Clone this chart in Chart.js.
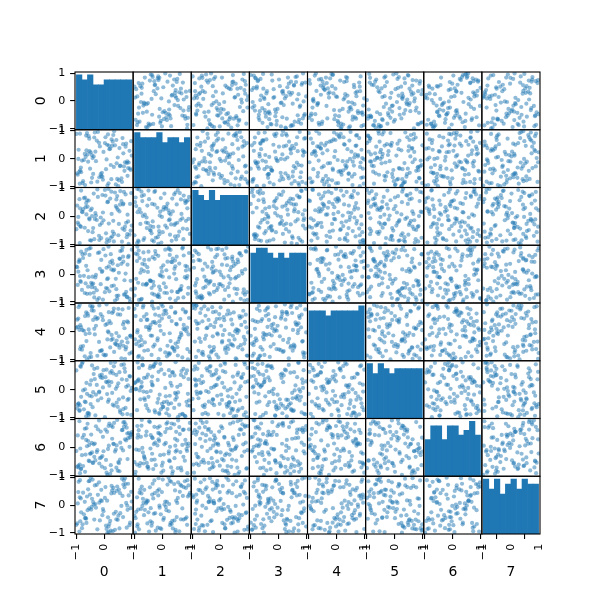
<!DOCTYPE html>
<html>
<head>
<meta charset="utf-8">
<script src="https://cdn.jsdelivr.net/npm/chart.js@4.4.0/dist/chart.umd.min.js"></script>
<style>
  body { margin: 0; background: #fff; }
  #fig { position: relative; width: 600px; height: 600px; }
  #fig canvas { position: absolute; left: 0; top: 0; }
</style>
</head>
<body>
<div id="fig"></div>
<script>
/* ---------- Data ---------- */

const columns = ["0", "1", "2", "3", "4", "5", "6", "7"];
const tickValues = [-1, 0, 1];

const col0 = [
  -0.31, 0.47, -0.99, 0.88, 0.12, -0.53, 0.71, -0.66, 0.29, -0.08,
  0.64, -0.44, 0.03, -0.85, 0.36, 0.93, -0.17, 0.55, -0.72, -0.26,
  -0.61, 0.24, -0.12, 0.77, -0.35, -0.91, 0.42, -0.57, 0.84, 0.16,
  0.09, 0.97, -0.48, -0.04, -0.69, 0.51, -0.88, 0.33, -0.83, 0.68,
  -0.94, -0.15, 0.81, -0.75, 0.58, -0.22, 0.27, 0.62, 0.19, -0.41,
  0.39, -0.87, -0.29, 0.07, -0.52, 0.73, -0.64, 0.99, -0.06, 0.45,
  0.86, 0.14, 0.53, -0.37, -0.96, -0.79, -0.46, -0.18, 0.66, 0.22,
  -0.59, 0.75, -0.68, 0.31, -0.43, 0.11, 0.91, -0.82, -0.33, 0.57,
  -0.10, -0.63, 0.35, -0.55, 0.79, 0.49, -0.92, 0.05, -0.24, 0.95,
  0.44, -0.39, 0.69, -0.02, 0.83, 0.26, 0.17, -0.50, -0.86, -0.77
];
const col1 = [
  0.25, -0.73, 0.89, -0.14, -0.97, 0.72, -0.28, 0.06, 0.46, -0.51,
  -0.84, 0.13, 0.56, -0.42, 0.99, -0.36, -0.67, 0.38, -0.05, 0.65,
  0.92, -0.23, -0.56, 0.43, 0.76, 0.32, -0.93, -0.11, -0.62, -0.89,
  -0.03, 0.63, 0.23, -0.76, 0.17, -0.99, -0.47, 0.85, -0.32, 0.52,
  -0.58, 0.44, -0.16, -0.81, -0.25, 0.96, 0.69, -0.71, 0.34, 0.02,
  0.48, -0.90, -0.09, -0.38, 0.27, -0.44, 0.83, 0.11, -0.65, -0.17,
  -0.34, 0.87, -0.78, 0.08, -0.53, -0.07, -0.86, 0.57, 0.74, 0.36,
  0.15, -0.13, -0.95, 0.61, -0.69, 0.50, 0.28, -0.49, 0.94, -0.27,
  -0.64, 0.30, -0.30, 0.81, 0.54, 0.04, -0.01, 0.77, -0.83, -0.41,
  0.67, -0.55, 0.19, 0.24, -0.10, -0.74, 0.47, -0.36, 0.90, -0.88
];
const col2 = [
  0.12, 0.73, -0.46, -0.99, 0.51, -0.07, 0.88, 0.33, -0.72, -0.24,
  -0.91, 0.28, 0.95, -0.35, -0.63, 0.45, -0.85, 0.18, 0.66, -0.13,
  0.58, -0.77, -0.04, 0.79, -0.82, -0.29, 0.37, -0.53, 0.06, 0.99,
  -0.94, 0.84, 0.22, 0.14, -0.41, -0.68, 0.62, -0.16, -0.38, 0.43,
  -0.22, -0.31, -0.75, 0.26, 0.91, 0.70, 0.09, 0.55, -0.88, -0.57,
  0.86, -0.96, 0.03, -0.61, -0.11, -0.49, 0.48, -0.33, 0.77, 0.31,
  -0.18, 0.53, -0.27, 0.82, 0.39, 0.17, -0.87, -0.70, -0.44, 0.64,
  0.35, -0.37, 0.68, -0.55, 0.01, -0.83, -0.66, 0.93, -0.09, 0.42,
  -0.78, 0.07, -0.90, 0.57, -0.23, 0.24, -0.02, 0.75, 0.97, -0.51,
  0.61, -0.42, 0.46, -0.14, -0.64, 0.89, -0.26, -0.86, 0.29, 0.15
];
const col3 = [
  -0.12, -0.89, 0.27, 0.66, -0.52, 0.92, -0.74, -0.33, 0.49, 0.08,
  0.85, -0.47, -0.65, -0.25, 0.16, -0.99, 0.78, 0.56, -0.06, -0.58,
  -0.71, 0.72, -0.36, 0.02, -0.84, 0.44, -0.17, -0.45, 0.34, 0.99,
  0.23, -0.55, 0.94, -0.92, -0.68, -0.77, 0.52, 0.13, -0.28, 0.63,
  -0.39, 0.19, -0.81, 0.58, 0.83, 0.76, -0.43, 0.37, -0.62, -0.09,
  -0.95, 0.47, -0.03, -0.50, 0.69, -0.22, 0.30, 0.88, 0.11, -0.78,
  0.61, -0.15, 0.05, -0.67, 0.25, -0.57, -0.31, -0.86, 0.96, 0.43,
  0.14, -0.73, 0.74, 0.38, -0.37, -0.18, -0.88, 0.81, -0.49, 0.55,
  0.51, 0.87, -0.41, -0.11, -0.64, 0.32, 0.09, 0.67, -0.93, -0.24,
  -0.54, -0.34, 0.45, 0.90, -0.83, 0.17, 0.28, -0.70, -0.07, 0.71
];
const col4 = [
  0.53, -0.48, 0.15, 0.86, -0.27, -0.92, 0.36, -0.08, 0.68, -0.66,
  -0.35, 0.77, -0.85, 0.24, -0.72, -0.14, 0.95, -0.57, 0.04, 0.46,
  -0.99, 0.31, 0.64, -0.63, 0.11, 0.89, -0.44, 0.58, -0.38, -0.02,
  0.99, -0.18, -0.76, 0.42, -0.88, 0.83, 0.07, 0.73, -0.53, 0.27,
  0.18, -0.69, -0.23, -0.51, 0.62, 0.50, -0.11, -0.95, 0.39, 0.92,
  -0.42, 0.97, 0.22, -0.83, -0.05, 0.13, 0.70, -0.74, 0.55, -0.31,
  0.34, 0.02, -0.16, 0.76, 0.44, -0.64, -0.90, -0.36, 0.81, -0.56,
  0.66, -0.97, 0.57, -0.25, 0.88, 0.29, -0.78, 0.16, -0.09, -0.46,
  -0.68, -0.33, 0.84, 0.09, -0.55, 0.63, 0.48, 0.25, -0.86, -0.13,
  -0.04, 0.43, -0.50, -0.82, 0.38, -0.29, 0.71, 0.94, -0.62, 0.06
];
const col5 = [
  -0.93, 0.12, 0.69, -0.33, 0.26, -0.87, 0.91, -0.45, -0.12, 0.54,
  0.37, -0.24, -0.99, 0.85, -0.58, 0.47, -0.07, 0.63, -0.71, 0.17,
  -0.15, 0.96, 0.44, -0.66, 0.75, -0.49, 0.03, -0.84, -0.37, 0.30,
  0.72, -0.91, -0.52, 0.08, -0.43, 0.23, -0.77, 0.58, 0.82, -0.28,
  -0.56, 0.51, 0.35, -0.03, -0.82, -0.39, 0.67, 0.89, 0.14, -0.63,
  0.99, -0.74, -0.18, 0.28, -0.22, 0.77, -0.96, 0.06, 0.42, -0.47,
  0.15, -0.44, -0.35, 0.56, -0.68, 0.93, 0.33, -0.10, -0.89, 0.61,
  -0.85, 0.64, 0.01, -0.54, 0.87, -0.16, 0.49, -0.26, 0.38, -0.75,
  -0.31, 0.24, 0.84, -0.94, 0.10, -0.62, -0.51, 0.45, 0.78, -0.05,
  0.53, -0.09, -0.70, 0.70, -0.88, 0.27, -0.36, 0.18, -0.57, 0.98
];
const col6 = [
  -0.47, 0.99, -0.13, 0.52, -0.99, 0.09, 0.74, -0.26, 0.31, -0.69,
  0.62, 0.16, -0.75, -0.04, 0.88, 0.36, -0.58, -0.86, 0.45, -0.17,
  0.04, -0.64, 0.57, 0.83, -0.34, -0.72, -0.08, 0.23, -0.42, 0.77,
  -0.91, 0.48, -0.22, 0.38, 0.67, -0.53, 0.94, 0.13, -0.78, -0.11,
  0.43, -0.39, 0.71, -0.67, 0.17, 0.65, -0.83, -0.02, 0.86, -0.55,
  -0.15, -0.62, 0.76, -0.45, -0.50, 0.91, 0.27, 0.55, -0.31, 0.07,
  0.33, -0.06, -0.57, 0.11, -0.70, -0.28, 0.46, 0.97, 0.63, -0.95,
  0.85, 0.29, -0.88, 0.73, -0.18, 0.56, 0.02, -0.77, 0.14, -0.44,
  -0.36, 0.69, 0.12, -0.48, 0.25, -0.84, -0.66, 0.64, -0.10, 0.44,
  -0.73, -0.56, 0.90, -0.14, 0.50, 0.78, 0.06, -0.23, -0.93, 0.35
];
const col7 = [
  0.04, 0.67, -0.71, 0.35, -0.99, -0.12, 0.89, -0.46, 0.53, 0.15,
  0.95, -0.06, 0.26, -0.58, 0.44, -0.63, 0.09, -0.84, -0.33, 0.73,
  0.31, -0.92, 0.17, 0.76, -0.52, 0.84, -0.24, 0.57, -0.17, -0.77,
  -0.86, 0.48, 0.99, -0.14, 0.12, -0.38, -0.95, 0.62, 0.24, -0.43,
  0.06, -0.55, -0.81, 0.45, -0.29, 0.37, 0.69, -0.03, -0.68, 0.92,
  -0.89, 0.28, -0.09, -0.74, 0.87, 0.64, -0.49, 0.13, -0.36, 0.51,
  0.77, -0.44, 0.56, 0.02, -0.66, -0.83, -0.16, 0.82, 0.33, -0.57,
  -0.18, 0.97, -0.47, -0.94, 0.23, 0.16, -0.72, -0.26, 0.71, 0.43,
  0.55, -0.64, -0.31, 0.86, 0.08, -0.53, 0.47, 0.65, -0.87, -0.11,
  -0.51, 0.11, 0.74, -0.22, -0.02, 0.42, -0.97, 0.38, 0.90, -0.69
];

const series = [col0, col1, col2, col3, col4, col5, col6, col7];

/* ---------- Layout ---------- */

const W = 600, H = 600;
const gridLeft = 75, gridRight = 540, gridTop = 72, gridBottom = 534;
const n = columns.length;
const pw = (gridRight - gridLeft) / n;
const ph = (gridBottom - gridTop) / n;
const blue = "#1f77b4";
const nBins = 10;

Chart.defaults.font.family = "'DejaVu Sans', sans-serif";
Chart.defaults.color = "#000";
Chart.defaults.animation = false;

function fmt(v) {
  return v < 0 ? "\u2212" + Math.abs(v) : String(v);
}

// same padding pandas uses around each variable's range
function limits(arr) {
  const mn = Math.min(...arr), mx = Math.max(...arr);
  const ext = (mx - mn) * 0.05 / 2;
  return [mn - ext, mx + ext];
}

function histogram(arr) {
  const mn = Math.min(...arr), mx = Math.max(...arr);
  const w = (mx - mn) / nBins;
  const counts = new Array(nBins).fill(0);
  arr.forEach(v => {
    counts[Math.min(nBins - 1, Math.floor((v - mn) / w))]++;
  });
  return counts.map((c, k) => ({ x: mn + w * (k + 0.5), y: c }));
}

const frame = {
  id: "frame",
  afterDraw(chart) {
    const a = chart.chartArea, ctx = chart.ctx;
    ctx.save();
    ctx.strokeStyle = "#000";
    ctx.lineWidth = 1.1;
    ctx.strokeRect(a.left, a.top, a.right - a.left, a.bottom - a.top);
    ctx.restore();
  }
};

function valueAxis(lim, axis, show, title) {
  const isX = axis === "x";
  return {
    type: "linear",
    position: isX ? "bottom" : "left",
    min: lim[0],
    max: lim[1],
    offset: false,
    display: show,
    afterBuildTicks: s => { s.ticks = tickValues.map(v => ({ value: v })); },
    afterFit: s => {
      if (!show) return;
      if (isX) s.height = H - gridBottom; else s.width = gridLeft;
    },
    ticks: {
      autoSkip: false,
      font: { size: 11.1 },
      padding: 4.9,
      minRotation: isX ? 90 : 0,
      maxRotation: isX ? 90 : 0,
      callback: v => fmt(v)
    },
    grid: { drawOnChartArea: false, drawTicks: true, tickLength: 4.9, color: "#000", lineWidth: 1.1 },
    border: { display: false },
    title: {
      display: true,
      text: title,
      font: { size: 13.9 },
      padding: isX ? { top: 0, bottom: 19 } : { top: 33, bottom: 0 }
    }
  };
}

/* ---------- Panels ---------- */

const fig = document.getElementById("fig");

for (let i = 0; i < n; i++) {
  for (let j = 0; j < n; j++) {
    const canvas = document.createElement("canvas");
    canvas.width = W;
    canvas.height = H;
    fig.appendChild(canvas);

    const px = gridLeft + j * pw, py = gridTop + i * ph;
    const padding = {
      left: j === 0 ? 0 : px,
      right: W - px - pw,
      top: py,
      bottom: i === n - 1 ? 0 : H - py - ph
    };

    const common = {
      responsive: false,
      events: [],
      layout: { padding },
      plugins: { legend: { display: false }, tooltip: { enabled: false } }
    };

    let config;
    if (i === j) {
      const bins = histogram(series[i]);
      const maxCount = Math.max(...bins.map(b => b.y));
      const scales = {
        x: valueAxis(limits(series[i]), "x", i === n - 1, columns[i]),
        y: { type: "linear", min: 0, max: maxCount * 1.05, display: false }
      };
      if (j === 0) scales.yl = valueAxis(limits(series[i]), "y", true, columns[i]);
      config = {
        type: "bar",
        data: {
          datasets: [{
            data: bins,
            backgroundColor: blue,
            borderWidth: 0,
            barPercentage: 1,
            categoryPercentage: 1,
            clip: 0
          }]
        },
        options: { ...common, scales }
      };
    } else {
      const xs = series[j], ys = series[i];
      config = {
        type: "scatter",
        data: {
          datasets: [{
            data: xs.map((x, k) => ({ x, y: ys[k] })),
            pointRadius: 2.1,
            pointHoverRadius: 0,
            pointBorderWidth: 0,
            pointBackgroundColor: "rgba(31,119,180,0.5)",
            clip: 0
          }]
        },
        options: {
          ...common,
          scales: {
            x: valueAxis(limits(xs), "x", i === n - 1, columns[j]),
            y: valueAxis(limits(ys), "y", j === 0, columns[i])
          }
        }
      };
    }
    config.plugins = [frame];
    new Chart(canvas, config);
  }
}
</script>
</body>
</html>
